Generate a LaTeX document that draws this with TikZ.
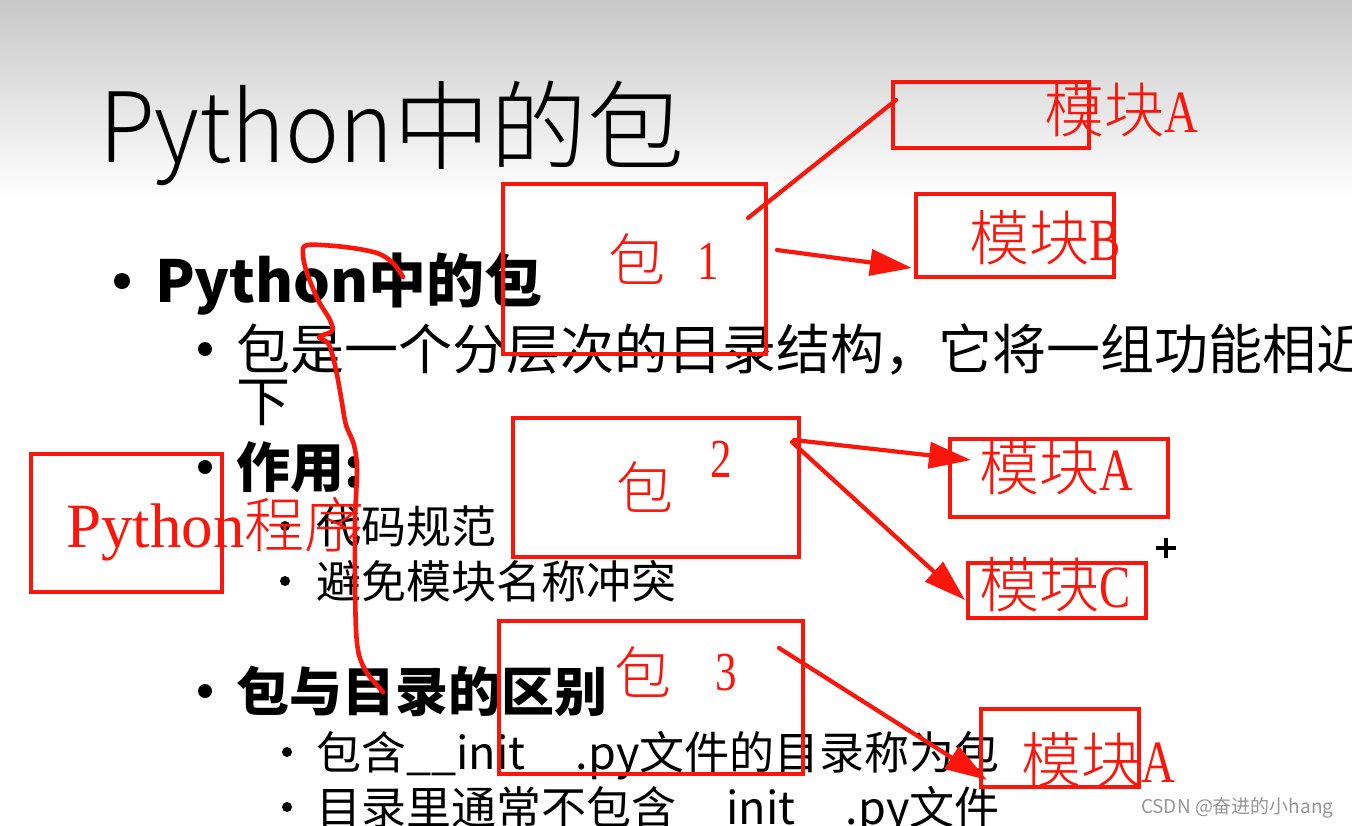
\documentclass[tikz,border=0pt]{standalone}
\usepackage{graphicx}
\usepackage{fontspec}
\setmainfont{Noto Sans CJK SC}
\IfFontExistsTF{Noto Sans CJK SC Light}
  {\newfontfamily\titlefont{Noto Sans CJK SC Light}}
  {\newfontfamily\titlefont{Noto Sans CJK SC}}
\newfontfamily\lserif{Liberation Serif}
\usetikzlibrary{arrows.meta}
\definecolor{annored}{RGB}{250,22,10}
\definecolor{wmgray}{RGB}{150,150,150}
\definecolor{topgray}{RGB}{200,200,200}
\tikzset{
  txt/.style={anchor=base west, inner sep=0pt, outer sep=0pt, text=black},
  redbox/.style={draw=annored, line width=4.5pt, inner sep=0pt, outer sep=0pt},
  redtxt/.style={anchor=base west, inner sep=0pt, outer sep=0pt, text=annored, font=\titlefont},
  redline/.style={draw=annored, line width=4.2pt, line cap=round, line join=round},
  redarrow/.style={redline, -{Triangle[length=42pt,width=26pt]}},
  bul/.style={circle, fill=black, inner sep=0pt, minimum size=#1},
}
\newcommand{\fs}[1]{\fontsize{#1}{#1}\selectfont}
\newcommand{\nl}[1]{\scalebox{0.78}[1]{\lserif #1}}
\begin{document}
\begin{tikzpicture}[x=1pt,y=-1pt]
\useasboundingbox (0,0) rectangle (1352,825);
\begin{scope}
\clip (0,0) rectangle (1352,825);
% background
\fill[white] (0,0) rectangle (1352,825);
\shade[top color=topgray, bottom color=white] (0,0) rectangle (1352,200);

% slide text
\node[txt] (title) at (99,162) {\titlefont\fs{97}\scalebox{0.94}[1]{Python}中的包};
\node[bul=16pt] (b1) at (122,281) {};
\node[txt] (t1) at (155,302) {\fs{58}\bfseries Python中的包};
\node[bul=14pt] (b2) at (205,349) {};
\node[txt] (t2) at (236,369) {\fs{54}包是一个分层次的目录结构，它将一组功能相近};
\node[txt] (t2b) at (236,421) {\fs{54}下};
\node[bul=14pt] (b3) at (205,467) {};
\node[txt] (t3) at (236,487) {\fs{54}\bfseries 作用:};
\node[bul=10pt] (b31) at (285,526) {};
\node[txt] (t31) at (316,543) {\fs{45}代码规范};
\node[bul=10pt] (b32) at (285,581) {};
\node[txt] (t32) at (316,598) {\fs{45}避免模块名称冲突};
\node[bul=14pt] (b4) at (205,691) {};
\node[txt] (t4) at (236,711) {\fs{53}\bfseries 包与目录的区别};
\node[bul=10pt] (b41) at (287,752) {};
\node[txt] (t41) at (316,769) {\fs{45}包含\_\_init\_\_.py文件的目录称为包};
\node[bul=10pt] (b42) at (287,807) {};
\node[txt] (t42) at (316,824) {\fs{45}目录里通常不包含\_\_init\_\_.py文件};

% red boxes
\node[redbox, minimum width=263pt, minimum height=170pt] (pk1) at (634.5,269) {};
\node[redbox, minimum width=286pt, minimum height=139pt] (pk2) at (656,487.5) {};
\node[redbox, minimum width=304pt, minimum height=153pt] (pk3) at (651,697.5) {};
\node[redbox, minimum width=196pt, minimum height=66pt] (ma1) at (991,115) {};
\node[redbox, minimum width=198pt, minimum height=83pt] (mb) at (1015,235.5) {};
\node[redbox, minimum width=218pt, minimum height=78pt] (ma2) at (1059,478) {};
\node[redbox, minimum width=178pt, minimum height=55pt] (mc) at (1057,590.5) {};
\node[redbox, minimum width=158pt, minimum height=78pt] (ma3) at (1060,748) {};
\node[redbox, minimum width=191pt, minimum height=138pt] (prog) at (126.5,523) {};

% red labels
\node[redtxt] (lpk1) at (608,281) {\fs{57}包};
\node[redtxt] (lpk1n) at (697,279) {\fs{55}\nl{1}};
\node[redtxt] (lpk2) at (616,509) {\fs{57}包};
\node[redtxt] (lpk2n) at (710,477) {\fs{55}\nl{2}};
\node[redtxt] (lpk3) at (614,694) {\fs{57}包};
\node[redtxt] (lpk3n) at (715,690) {\fs{55}\nl{3}};
\node[redtxt] (lma1) at (1044,132) {\fs{60}模块\nl{A}};
\node[redtxt] (lmb) at (969,260) {\fs{60}模块\nl{B}};
\node[redtxt] (lma2) at (979,490) {\fs{60}模块\nl{A}};
\node[redtxt] (lmc) at (979,607) {\fs{60}模块\nl{C}};
\node[redtxt] (lma3) at (1021,782) {\fs{60}模块\nl{A}};
\node[redtxt] (lprog) at (66,547) {{\lserif\fs{63}Python}{\fs{60}程序}};

% connectors
\coordinate (s1) at (748,218);
\coordinate (e1) at (896,100);
\coordinate (s2) at (777,250);
\coordinate (e2) at (912,268);
\coordinate (s3) at (794,440);
\coordinate (e3) at (971,460);
\coordinate (s4) at (792,442);
\coordinate (e4) at (965,600);
\coordinate (s5) at (779,648);
\coordinate (e5) at (987,780);
\draw[redline] (s1) -- (e1);
\draw[redarrow] (s2) -- (e2);
\draw[redarrow] (s3) -- (e3);
\draw[redarrow] (s4) -- (e4);
\draw[redarrow] (s5) -- (e5);

% hand-drawn brace
\draw[redline, line width=4.6pt] plot[smooth, tension=0.5] coordinates {
 (403,277) (393,263) (377,253) (345,247) (307,245) (303,255) (307,273)
 (318,300) (330,320) (332,331) (319,337) (328,343) (333,357) (338,380)
 (342,403) (346,425) (354,445) (357,470) (355,520) (355,580) (356,630)
 (359,655) (367,673) (383,692)};

% cursor
\coordinate (cur) at (1166,548);
\draw[black, line width=3.5pt] ([xshift=-10pt]cur) -- ([xshift=10pt]cur);
\draw[black, line width=3.5pt] ([yshift=-10pt]cur) -- ([yshift=10pt]cur);

% watermark
\node[txt, text=wmgray] (wm) at (1141,813) {\fs{19}CSDN @奋进的小hang};
\end{scope}
\end{tikzpicture}
\end{document}
